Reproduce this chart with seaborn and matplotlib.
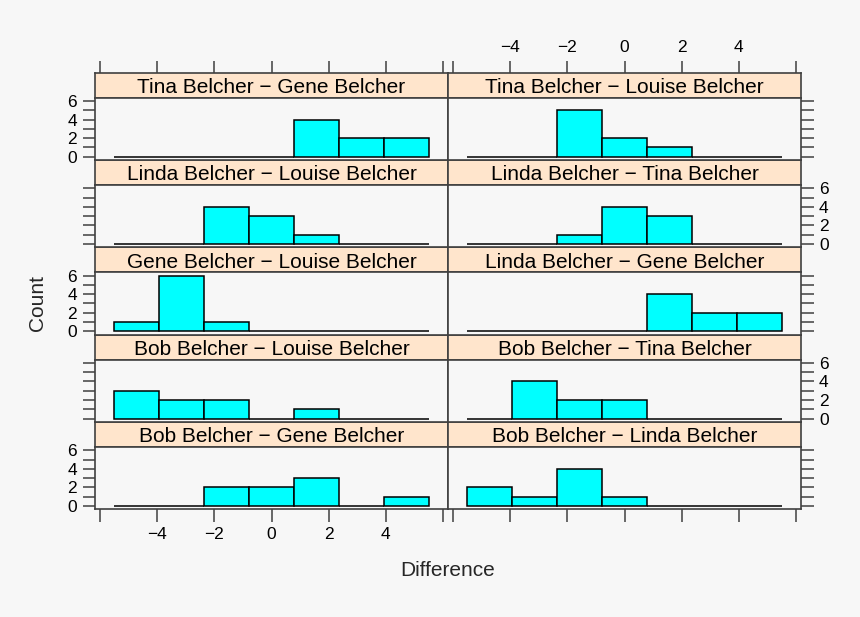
import numpy as np
import pandas as pd
import matplotlib
matplotlib.use("Agg")
import matplotlib.pyplot as plt
import seaborn as sns

# panels in lattice order (bottom-left first, row by row)
pairs = [
    "Bob Belcher − Gene Belcher", "Bob Belcher − Linda Belcher",
    "Bob Belcher − Louise Belcher", "Bob Belcher − Tina Belcher",
    "Gene Belcher − Louise Belcher", "Linda Belcher − Gene Belcher",
    "Linda Belcher − Louise Belcher", "Linda Belcher − Tina Belcher",
    "Tina Belcher − Gene Belcher", "Tina Belcher − Louise Belcher",
]
# counts in 7 equal bins from -5.5 to 5.5
counts = [
    [0, 0, 2, 2, 3, 0, 1],
    [2, 1, 4, 1, 0, 0, 0],
    [3, 2, 2, 0, 1, 0, 0],
    [0, 4, 2, 2, 0, 0, 0],
    [1, 6, 1, 0, 0, 0, 0],
    [0, 0, 0, 0, 4, 2, 2],
    [0, 0, 4, 3, 1, 0, 0],
    [0, 0, 1, 4, 3, 0, 0],
    [0, 0, 0, 0, 4, 2, 2],
    [0, 0, 5, 2, 1, 0, 0],
]
edges = [-5.5 + k * 11 / 7 for k in range(8)]
centers = [(a + b) / 2 for a, b in zip(edges[:-1], edges[1:])]
xticks = [-6, -4, -2, 0, 2, 4, 6]
xticklabels = ["", "−4", "−2", "0", "2", "4", ""]
yticks = [0, 1, 2, 3, 4, 5, 6]
yticklabels = ["0", "", "2", "", "4", "", "6"]

sns.set_style("white")
plt.rcParams['font.family'] = ['Liberation Sans', 'DejaVu Sans']

W, H = 860, 617
bg = "#F7F7F7"
fig = plt.figure(figsize=(W / 100, H / 100), dpi=100, facecolor=bg)

x0, colw = 95, 353
y0, rowh, striph = 72.7, 87.3, 25
panelh = rowh - striph
border = "#404040"

def fa(l, t, w, h):
    return fig.add_axes([l / W, 1 - (t + h) / H, w / W, h / H])

for i, (name, cnt) in enumerate(zip(pairs, counts)):
    col = i % 2
    row = 4 - i // 2  # 0 = top row
    left = x0 + col * colw
    top = y0 + row * rowh
    sax = fa(left, top, colw, striph)
    ax = fa(left, top + striph, colw, panelh)

    df = pd.DataFrame({"Difference": centers, "n": cnt})
    sns.histplot(data=df, x="Difference", weights="n", bins=edges, ax=ax,
                 color="#00FFFF", edgecolor="black", linewidth=1.1, alpha=1)
    ax.set_xlim(-6.17, 6.17)
    ax.set_ylim(-0.36, 6.36)
    ax.set_facecolor(bg)
    ax.set_xlabel("")
    ax.set_ylabel("")

    sax.set_facecolor("#FFE5CC")
    sax.set_xlim(-6.17, 6.17)
    sax.set_ylim(0, 1)
    sax.text(0.5, 0.41, name, transform=sax.transAxes, ha="center",
             va="center", fontsize=15, color="black")

    for a in (ax, sax):
        for s in a.spines.values():
            s.set_color(border)
            s.set_linewidth(1.2)

    tk = dict(direction="out", length=9, width=1.1, color=border,
              labelsize=12.5, labelcolor="black", pad=4)
    # y ticks on outer side
    ax.set_yticks(yticks)
    ax.set_yticklabels(yticklabels)
    if col == 0:
        ax.tick_params(axis="y", left=True, right=False, labelleft=(row % 2 == 0),
                       labelright=False, **tk)
    else:
        ax.yaxis.set_ticks_position("right")
        ax.tick_params(axis="y", left=False, right=True, labelleft=False,
                       labelright=(row % 2 == 1), **tk)
    # x ticks: bottom row on panel, top row on strip
    ax.set_xticks(xticks)
    ax.set_xticklabels(xticklabels)
    ax.tick_params(axis="x", bottom=(row == 4), top=False,
                   labelbottom=(row == 4 and col == 0), **tk)
    sax.set_yticks([])
    sax.set_xticks(xticks)
    sax.set_xticklabels(xticklabels)
    sax.xaxis.set_ticks_position("top")
    sax.tick_params(axis="x", top=(row == 0), bottom=False, labelbottom=False,
                    labeltop=(row == 0 and col == 1), **tk)

fig.text(38 / W, 1 - 303 / H, "Count", rotation=90, ha="center", va="center",
         fontsize=15)
fig.text(448 / W, 1 - 570 / H, "Difference", ha="center", va="center",
         fontsize=15)

fig.savefig("out.png", dpi=100, facecolor=bg)
